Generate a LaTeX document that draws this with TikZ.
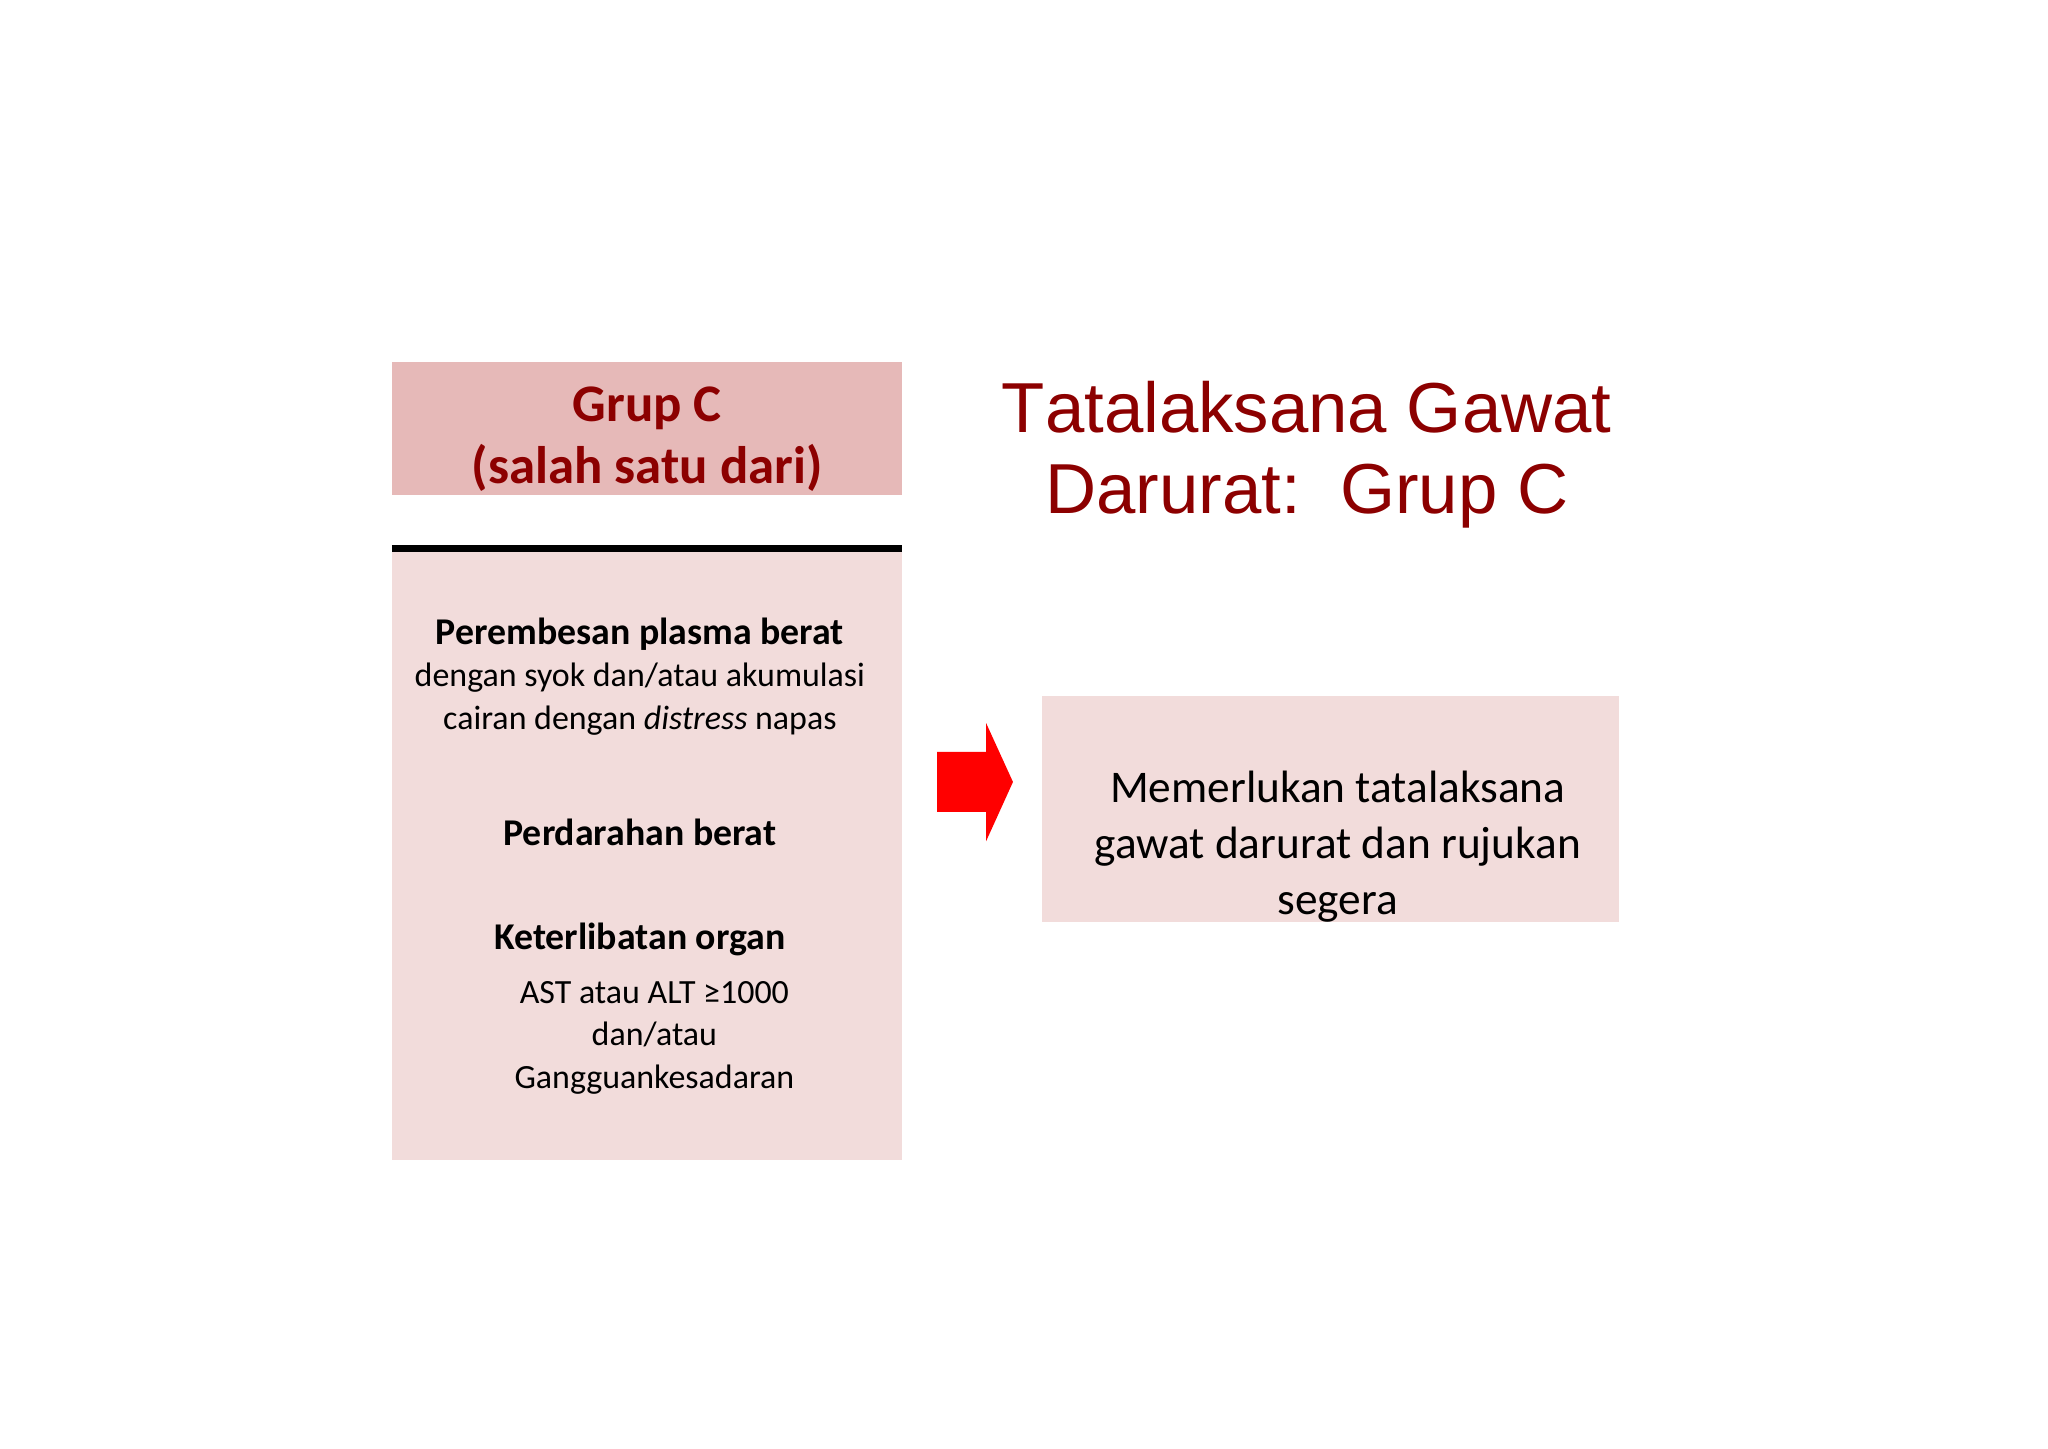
\documentclass[tikz,border=0pt]{standalone}
\usepackage{fontspec}
\setmainfont{Carlito}
\newfontfamily\titlefont[Kerning=Off]{Liberation Sans}
\frenchspacing

\definecolor{darkred}{RGB}{140,0,0}
\definecolor{headpink}{HTML}{E6B9B8}
\definecolor{bodypink}{HTML}{F2DCDB}
\definecolor{arrowred}{HTML}{FF0000}

\tikzset{
  box/.style={rectangle, inner sep=0pt, outer sep=0pt},
  txt/.style={align=center, inner sep=0pt}
}

\begin{document}
\begin{tikzpicture}
\useasboundingbox (0,0) rectangle (29.7,21);

% boxes
\node[box, fill=headpink, minimum width=7.40cm, minimum height=1.93cm] (head) at (9.385,14.785) {};
\node[box, fill=bodypink, minimum width=7.40cm, minimum height=8.82cm] (body) at (9.382,8.59) {};
\node[box, fill=bodypink, minimum width=8.37cm, minimum height=3.28cm] (result) at (19.295,9.27) {};
\draw[line width=2.75pt] (5.684,13.047) -- (13.08,13.047);

% block arrow
\fill[arrowred] (13.59,10.095) -- (14.30,10.095) -- (14.30,10.515) -- (14.69,9.66)
  -- (14.30,8.80) -- (14.30,9.225) -- (13.59,9.225) -- cycle;

% texts
\node[txt, text=darkred, font=\fontsize{21.8}{25.8}\selectfont\bfseries] (headtext) at (9.385,14.63)
  {Grup C\\(salah satu dari)};
\node[txt, text=darkred, font=\titlefont\fontsize{29.2}{33.5}\selectfont] (title) at (18.95,14.41)
  {Tatalaksana Gawat\\Darurat:\ \ Grup C};
\node[txt, font=\fontsize{14}{17.5}\selectfont] (plasma) at (9.28,11.19)
  {{\fontsize{15.6}{18}\selectfont\bfseries Perembesan plasma berat}\\
   dengan syok dan/atau akumulasi\\cairan dengan \emph{distress} napas};
\node[txt, font=\fontsize{15.6}{18}\selectfont\bfseries] (bleed) at (9.28,8.93)
  {Perdarahan berat};
\node[txt, font=\fontsize{15.6}{18}\selectfont\bfseries] (organ) at (9.28,7.37)
  {Keterlibatan organ};
\node[txt, font=\fontsize{14}{17.5}\selectfont] (lab) at (9.49,5.95)
  {AST atau ALT ≥1000\\dan/atau\\Gangguankesadaran};
\node[txt, font=\fontsize{18.7}{23}\selectfont] (resulttext) at (19.40,8.72)
  {Memerlukan tatalaksana\\gawat darurat dan rujukan\\segera};
\end{tikzpicture}
\end{document}
